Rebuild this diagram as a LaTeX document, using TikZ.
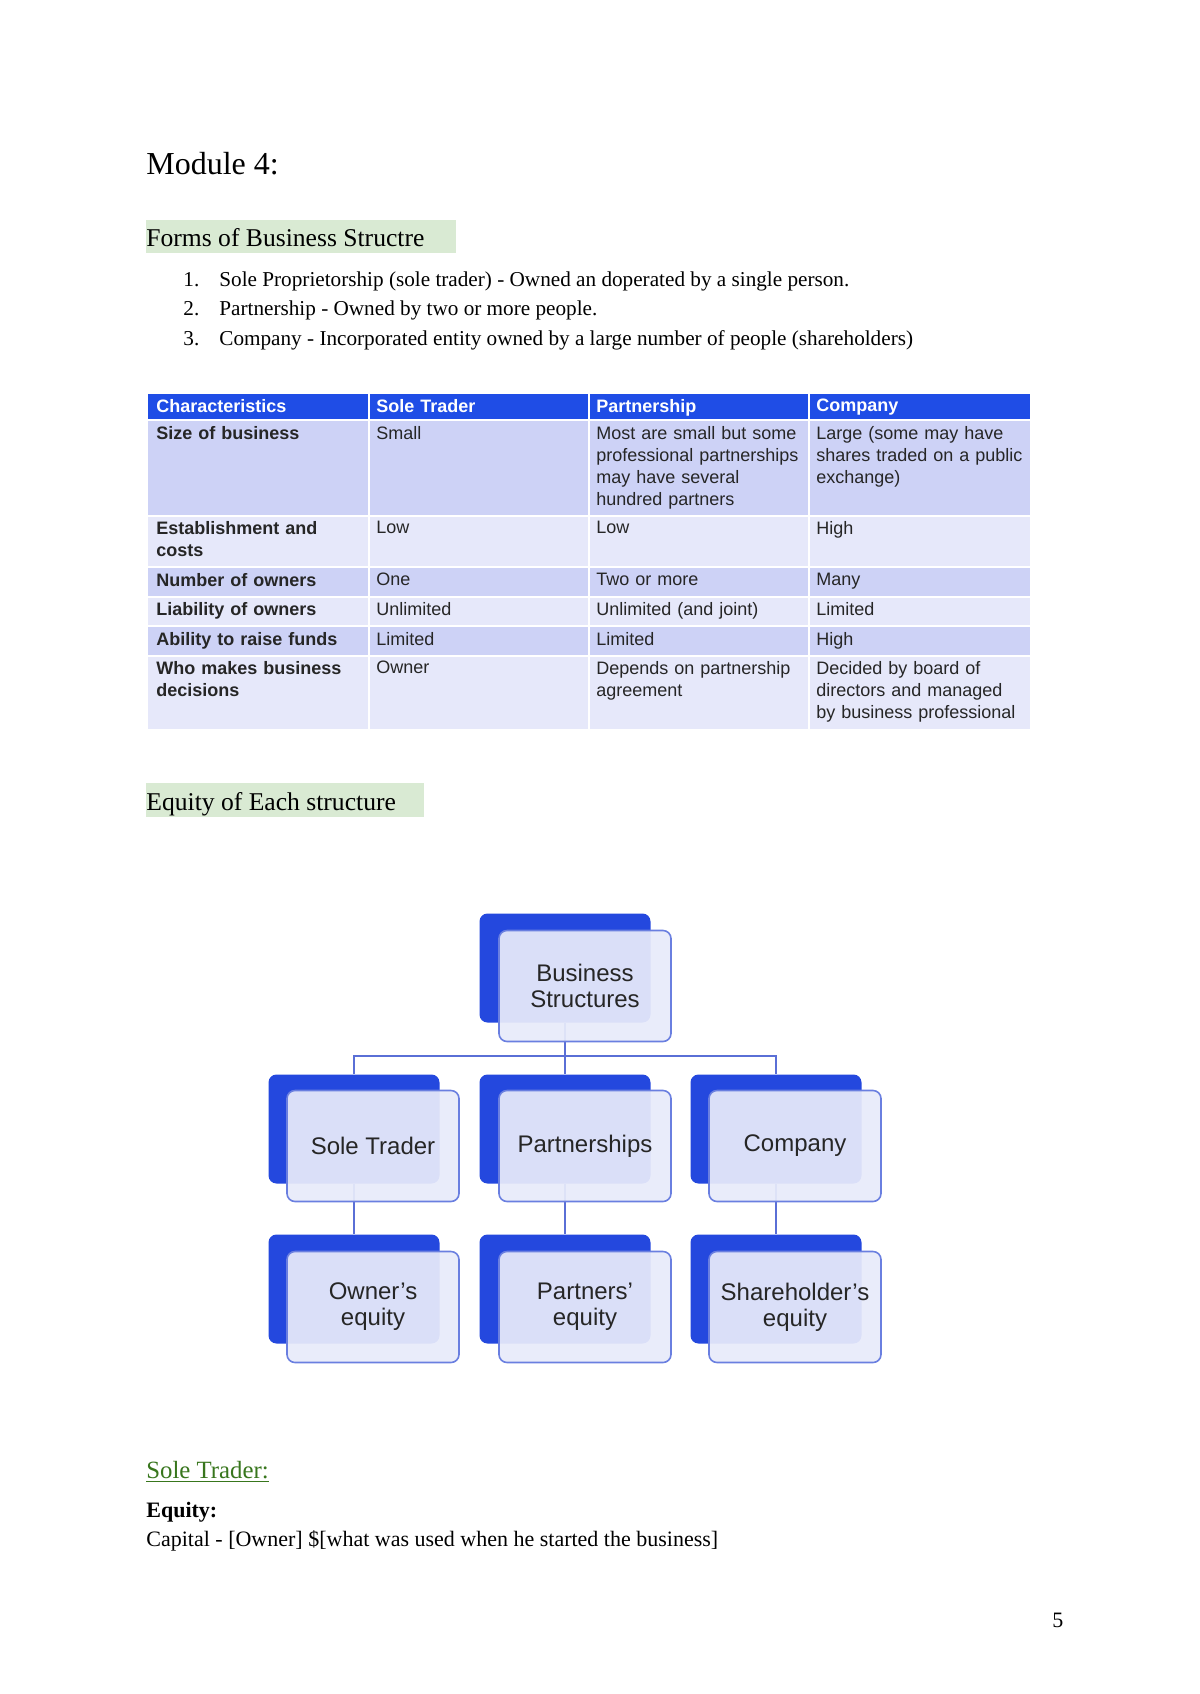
\documentclass[tikz,border=0pt]{standalone}
\usepackage{fontspec}
\setmainfont{Liberation Serif}
\newfontfamily\arialf{Liberation Sans}
\usetikzlibrary{calc}
\definecolor{hdr}{HTML}{1F4DE6}
\definecolor{rowa}{HTML}{CDD2F6}
\definecolor{rowb}{HTML}{E6E8FA}
\definecolor{hlg}{HTML}{D9EAD3}
\definecolor{backb}{HTML}{2448DE}
\definecolor{frontf}{HTML}{E8EBFA}
\definecolor{frontd}{HTML}{6A7FE0}
\definecolor{linec}{HTML}{5A6FD6}
\definecolor{grn}{HTML}{38761D}
\hyphenpenalty=10000
\tikzset{
 cell/.style={anchor=north west,inner sep=0pt,text width=104pt,align=left,font=\arialf\fontsize{9}{11}\selectfont,text=black!85},
 hcell/.style={cell,font=\arialf\bfseries\fontsize{9}{11}\selectfont,text=white},
 bcell/.style={cell,text width=96pt,font=\arialf\bfseries\fontsize{9}{11}\selectfont},
 backbox/.style={draw=none,fill=backb,rounded corners=4pt,minimum width=85.5pt,minimum height=54.5pt,inner sep=0pt},
 frontbox/.style={draw=frontd,line width=0.8pt,fill=frontf,fill opacity=0.93,text opacity=1,rounded corners=4pt,minimum width=86pt,minimum height=55.5pt,inner sep=0pt,align=center,font=\arialf\fontsize{12}{13}\selectfont,text=black!85},
 conn/.style={draw=linec,line width=0.8pt},
 body/.style={anchor=base west,inner sep=0pt,font=\fontsize{10.6}{12}\selectfont}
}
\begin{document}
\hyphenpenalty=10000
\begin{tikzpicture}[x=0.5pt,y=-0.5pt]
\useasboundingbox[fill=white] (0,0) rectangle (1200,1694);
\node[anchor=base west,inner sep=0pt,font=\fontsize{16}{18}\selectfont] (mod) at (146,174) {Module 4:};
\fill[hlg] (146,220) rectangle (456,253);
\node[anchor=base west,inner sep=0pt,font=\fontsize{12.8}{14}\selectfont] (h1) at (146,246) {Forms of Business Structre};
\node[body] (n1) at (183,286) {1.};
\node[body] (t1) at (219,286) {Sole Proprietorship (sole trader) - Owned an doperated by a single person.};
\node[body] (n2) at (183,315) {2.};
\node[body] (t2) at (219,315) {Partnership - Owned by two or more people.};
\node[body] (n3) at (183,345) {3.};
\node[body] (t3) at (219,345) {Company - Incorporated entity owned by a large number of people (shareholders)};
% table
\fill[hdr] (148,394) rectangle (1030,420);
\fill[rowa] (148,420) rectangle (1030,516);
\fill[rowb] (148,516) rectangle (1030,567);
\fill[rowa] (148,567) rectangle (1030,597);
\fill[rowb] (148,597) rectangle (1030,626);
\fill[rowa] (148,626) rectangle (1030,656);
\fill[rowb] (148,656) rectangle (1030,729);
\foreach \x in {369,589,809} \draw[white,line width=1pt] (\x,394) -- (\x,729);
\foreach \y in {420,516,567,597,626,656} \draw[white,line width=1pt] (148,\y) -- (1030,\y);
\node[hcell] (c00) at (156,399) {Characteristics};
\node[hcell] (c01) at (376,399) {Sole Trader};
\node[hcell] (c02) at (596,399) {Partnership};
\node[hcell] (c03) at (816,399) {Company};
\node[bcell] (c10) at (156,426) {Size of business};
\node[cell] (c11) at (376,426) {Small};
\node[cell] (c12) at (596,426) {Most are small but some professional partnerships may have several\\hundred partners};
\node[cell] (c13) at (816,426) {Large (some may have shares traded on a public exchange)};
\node[bcell] (c20) at (156,521) {Establishment and\\costs};
\node[cell] (c21) at (376,521) {Low};
\node[cell] (c22) at (596,521) {Low};
\node[cell] (c23) at (816,521) {High};
\node[bcell] (c30) at (156,573) {Number of owners};
\node[cell] (c31) at (376,573) {One};
\node[cell] (c32) at (596,573) {Two or more};
\node[cell] (c33) at (816,573) {Many};
\node[bcell] (c40) at (156,602) {Liability of owners};
\node[cell] (c41) at (376,602) {Unlimited};
\node[cell] (c42) at (596,602) {Unlimited (and joint)};
\node[cell] (c43) at (816,602) {Limited};
\node[bcell] (c50) at (156,632) {Ability to raise funds};
\node[cell] (c51) at (376,632) {Limited};
\node[cell] (c52) at (596,632) {Limited};
\node[cell] (c53) at (816,632) {High};
\node[bcell] (c60) at (156,661) {Who makes business\\decisions};
\node[cell] (c61) at (376,661) {Owner};
\node[cell] (c62) at (596,661) {Depends on partnership\\agreement};
\node[cell] (c63) at (816,661) {Decided by board of\\directors and managed\\by business professional};
% heading 2
\fill[hlg] (146,783) rectangle (424,817);
\node[anchor=base west,inner sep=0pt,font=\fontsize{12.8}{14}\selectfont] (h2) at (146,810) {Equity of Each structure};
% diagram back boxes
\node[backbox] (bsb) at (565,968) {};
\node[backbox] (stb) at (354,1129) {};
\node[backbox] (pab) at (565,1129) {};
\node[backbox] (cob) at (776,1129) {};
\node[backbox] (oeb) at (354,1289) {};
\node[backbox] (peb) at (565,1289) {};
\node[backbox] (seb) at (776,1289) {};
% connectors
\coordinate (bus) at (565,1056);
\draw[conn] (bsb.south) -- (bus);
\draw[conn] (stb.north) |- (bus) -| (cob.north);
\draw[conn] (bus) -- (pab.north);
\draw[conn] (stb.south) -- (oeb.north);
\draw[conn] (pab.south) -- (peb.north);
\draw[conn] (cob.south) -- (seb.north);
% front boxes
\node[frontbox] (bs) at (585,986) {Business\\Structures};
\node[frontbox] (st) at (373,1146) {Sole Trader};
\node[frontbox] (pa) at (585,1146) {Partnerships};
\node[frontbox] (co) at (795,1146) {Company};
\node[frontbox] (oe) at (373,1307) {Owner’s\\equity};
\node[frontbox] (pe) at (585,1307) {Partners’\\equity};
\node[frontbox] (se) at (795,1307) {Shareholder’s\\equity};
% bottom text
\node[anchor=base west,inner sep=0pt,font=\fontsize{12.4}{14}\selectfont,text=grn] (sl) at (146,1478) {\underline{Sole Trader:}};
\node[body,font=\bfseries\fontsize{11}{13}\selectfont] (eq) at (146,1517) {Equity:};
\node[body,font=\fontsize{11}{13}\selectfont] (cap) at (146,1546) {Capital - [Owner] \$[what was used when he started the business]};
\node[body,font=\fontsize{11}{13}\selectfont] (pg) at (1052,1627) {5};
\end{tikzpicture}
\end{document}
